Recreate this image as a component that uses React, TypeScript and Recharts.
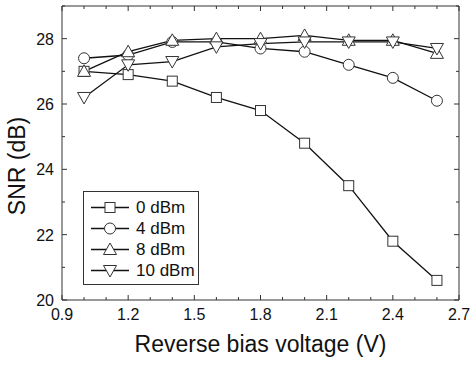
import React from 'react';
import { LineChart, Line, XAxis, YAxis, ReferenceArea } from 'recharts';

const voltages = [1.0, 1.2, 1.4, 1.6, 1.8, 2.0, 2.2, 2.4, 2.6];
const snr0 = [27.0, 26.9, 26.7, 26.2, 25.8, 24.8, 23.5, 21.8, 20.6];
const snr4 = [27.4, 27.5, 27.9, 27.9, 27.7, 27.6, 27.2, 26.8, 26.1];
const snr8 = [27.0, 27.6, 27.95, 28.0, 28.0, 28.1, 27.95, 27.95, 27.55];
const snr10 = [26.2, 27.2, 27.3, 27.75, 27.85, 27.9, 27.9, 27.9, 27.7];
const xTicks = [0.9, 1.0, 1.1, 1.2, 1.3, 1.4, 1.5, 1.6, 1.7, 1.8, 1.9, 2.0, 2.1, 2.2, 2.3, 2.4, 2.5, 2.6, 2.7];
const yTicks = [20, 21, 22, 23, 24, 25, 26, 27, 28, 29];
const seriesNames = ['0 dBm', '4 dBm', '8 dBm', '10 dBm'];

const data = voltages.map((v, i) => ({ v, s0: snr0[i], s4: snr4[i], s8: snr8[i], s10: snr10[i] }));

const W = 474;
const H = 365;
const LEFT = 62;
const RIGHT = 459;
const TOP = 6;
const BOTTOM = 300;
const FONT = '"Liberation Sans", Arial, sans-serif';
const AX = '#333';

type Shape = 'square' | 'circle' | 'up' | 'down';

const Marker = ({ cx, cy, shape }: { cx: number; cy: number; shape: Shape }) => {
  const st = { fill: '#fff', stroke: '#333', strokeWidth: 1 };
  if (shape === 'square') return <rect x={cx - 5} y={cy - 5} width={10} height={10} {...st} />;
  if (shape === 'circle') return <circle cx={cx} cy={cy} r={5.5} {...st} />;
  if (shape === 'up') return <path d={`M${cx},${cy - 6.5} L${cx + 6.5},${cy + 5} L${cx - 6.5},${cy + 5} Z`} {...st} />;
  return <path d={`M${cx},${cy + 6.5} L${cx + 6.5},${cy - 5} L${cx - 6.5},${cy - 5} Z`} {...st} />;
};

const dotFor = (shape: Shape) => (props: any) => {
  const { cx, cy, index } = props;
  if (cx == null || cy == null) return <g key={index} />;
  return <Marker key={index} cx={cx} cy={cy} shape={shape} />;
};

const XTick = (props: any) => {
  const { x, payload } = props;
  const v = payload.value as number;
  const major = Math.round(v * 10) % 3 === 0;
  const len = major ? 5 : 3;
  return (
    <g>
      <line x1={x} y1={BOTTOM} x2={x} y2={BOTTOM - len} stroke={AX} />
      <line x1={x} y1={TOP} x2={x} y2={TOP + len} stroke={AX} />
      {major && (
        <text x={x} y={320} textAnchor="middle" fontSize={16} fontFamily={FONT} fill="#111">
          {v.toFixed(1)}
        </text>
      )}
    </g>
  );
};

const YTick = (props: any) => {
  const { y, payload } = props;
  const v = payload.value as number;
  const major = v % 2 === 0;
  const len = major ? 5 : 3;
  return (
    <g>
      <line x1={LEFT} y1={y} x2={LEFT + len} y2={y} stroke={AX} />
      <line x1={RIGHT} y1={y} x2={RIGHT - len} y2={y} stroke={AX} />
      {major && (
        <text x={54} y={y} dy={6} textAnchor="end" fontSize={16} fontFamily={FONT} fill="#111">
          {v}
        </text>
      )}
    </g>
  );
};

const shapes: Shape[] = ['square', 'circle', 'up', 'down'];

const LegendBox = () => (
  <div
    style={{
      position: 'absolute',
      left: 83,
      top: 191,
      width: 116,
      height: 94,
      boxSizing: 'border-box',
      border: '1px solid #333',
      background: '#fff',
      paddingTop: 5,
      fontFamily: FONT,
      fontSize: 17,
      color: '#111',
    }}
  >
    {seriesNames.map((n, i) => (
      <div key={n} style={{ display: 'flex', alignItems: 'center', height: 21 }}>
        <svg width={48} height={21} style={{ marginLeft: 4 }}>
          <line x1={3} y1={10.5} x2={41} y2={10.5} stroke="#111" strokeWidth={1.3} />
          <Marker cx={22} cy={10.5} shape={shapes[i]} />
        </svg>
        <span>{n}</span>
      </div>
    ))}
  </div>
);

export default function App() {
  const keys = ['s0', 's4', 's8', 's10'];
  return (
    <div style={{ position: 'absolute', left: 0, top: 0, width: W, height: H, background: '#fff' }}>
      <LineChart width={W} height={H} data={data} margin={{ top: TOP, right: W - RIGHT, bottom: 0, left: 0 }}>
        <XAxis
          dataKey="v"
          type="number"
          domain={[0.9, 2.7]}
          ticks={xTicks}
          interval={0}
          tick={<XTick />}
          tickLine={false}
          axisLine={false}
          height={H - BOTTOM}
          label={{
            content: (p: any) => {
              const vb = p.viewBox;
              return (
                <text x={vb.x + vb.width / 2} y={352} textAnchor="middle" fontSize={23} fontFamily={FONT} fill="#111">
                  Reverse bias voltage (V)
                </text>
              );
            },
          }}
        />
        <YAxis
          type="number"
          domain={[20, 29]}
          ticks={yTicks}
          interval={0}
          tick={<YTick />}
          tickLine={false}
          axisLine={false}
          width={LEFT}
          label={{
            content: () => (
              <text
                x={25}
                y={166}
                transform="rotate(-90, 25, 166)"
                textAnchor="middle"
                fontSize={23}
                fontFamily={FONT}
                fill="#111"
              >
                SNR (dB)
              </text>
            ),
          }}
        />
        <ReferenceArea x1={0.9} x2={2.7} y1={20} y2={29} fill="none" stroke={AX} strokeWidth={1} ifOverflow="visible" />
        {keys.map((k, i) => (
          <Line
            key={k}
            dataKey={k}
            name={seriesNames[i]}
            stroke="#111"
            strokeWidth={1.3}
            dot={dotFor(shapes[i])}
            activeDot={false}
            isAnimationActive={false}
          />
        ))}
      </LineChart>
      <LegendBox />
    </div>
  );
}
